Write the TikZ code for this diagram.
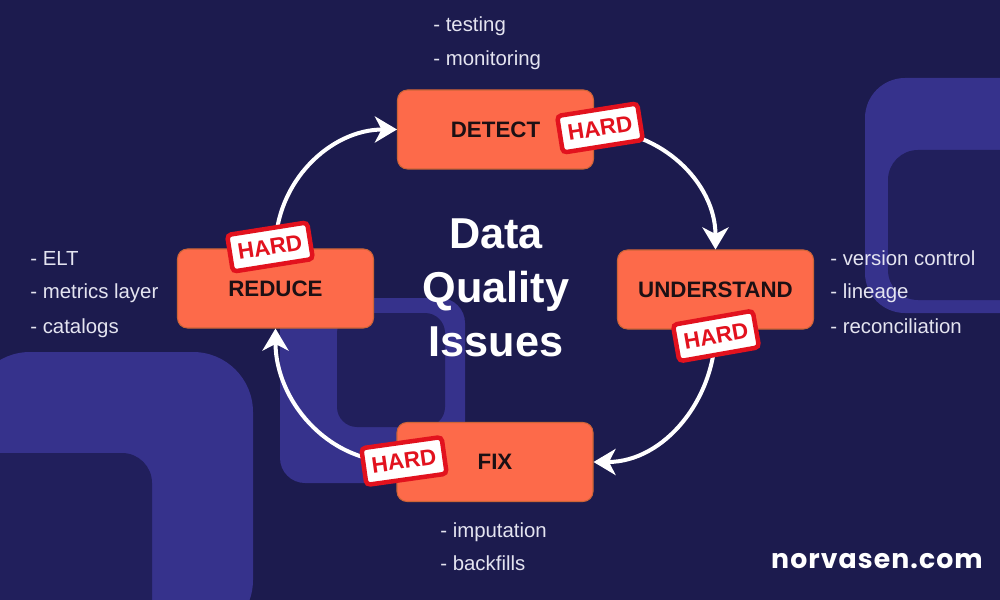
\documentclass[tikz,border=0pt]{standalone}
\usepackage{fontspec}
\setmainfont{Liberation Sans}
\newfontfamily\logofont{Poppins}[LetterSpace=4]
\usetikzlibrary{arrows.meta}
\definecolor{bgnavy}{RGB}{28,27,78}
\definecolor{decopurple}{RGB}{54,50,140}
\definecolor{decoinner}{RGB}{33,31,92}
\definecolor{boxfill}{RGB}{253,106,74}
\definecolor{boxline}{RGB}{205,100,55}
\definecolor{boxtext}{RGB}{28,16,20}
\definecolor{stampred}{RGB}{226,18,30}
\definecolor{notegray}{RGB}{228,228,240}
\begin{document}
\begin{tikzpicture}[scale=0.2]
	\tikzstyle{every node}+=[inner sep=0pt]
	\tikzstyle{box}=[draw=boxline, line width=0.6pt, fill=boxfill, rounded corners=0.2cm, minimum width=3.92cm, minimum height=1.58cm, text=boxtext, font=\fontsize{12.7}{15}\selectfont\bfseries]
	\tikzstyle{stamp}=[draw=stampred, line width=0.09cm, fill=white, rounded corners=0.08cm, minimum width=1.62cm, minimum height=0.74cm, text=stampred, font=\fontsize{12.8}{15}\selectfont\bfseries]
	\tikzstyle{note}=[anchor=base west, text=notegray, font=\fontsize{11.6}{13}\selectfont]
	\tikzstyle{flow}=[draw=white, line width=0.08cm, -{Stealth[length=0.44cm,width=0.52cm,inset=0.13cm]}]
	\useasboundingbox (0,0) rectangle (100,-60);
	\clip (0,0) rectangle (100,-60);
	\fill [bgnavy] (0,0) rectangle (100,-60);
	% background squares
	\fill [decopurple, rounded corners=1.2cm] (-3,-35.2) rectangle (25.3,-64);
	\fill [decoinner, rounded corners=0.6cm] (-3,-45.3) rectangle (15.2,-64);
	\fill [decopurple, rounded corners=0.5cm] (28,-29.8) rectangle (46.5,-48.3);
	\fill [decoinner, rounded corners=0.4cm] (33.7,-31.3) rectangle (44.5,-42.7);
	\fill [decopurple, rounded corners=0.8cm] (86.5,-7.8) rectangle (104,-31.3);
	\fill [decoinner, rounded corners=0.6cm] (88.8,-15) rectangle (104,-30);
	% steps
	\node [box] (detect) at (49.55,-12.95) {DETECT};
	\node [box] (understand) at (71.55,-28.95) {UNDERSTAND};
	\node [box] (fix) at (49.5,-46.2) {FIX};
	\node [box] (reduce) at (27.55,-28.85) {REDUCE};
	\draw [flow] (reduce.north) to [out=90, in=180] (detect.west);
	\draw [flow] (detect.east) to [out=0, in=90] (understand.north);
	\draw [flow] (understand.south) to [out=-90, in=0] (fix.east);
	\draw [flow] (fix.west) to [out=180, in=-90] (reduce.south);
	\node [stamp, rotate=9] (hard1) at (60,-12.8) {HARD};
	\node [stamp, rotate=10] (hard2) at (71.6,-33.6) {HARD};
	\node [stamp, rotate=8] (hard3) at (40.4,-46.1) {HARD};
	\node [stamp, rotate=9] (hard4) at (27,-24.7) {HARD};
	% title
	\node [text=white, align=center, font=\fontsize{24.6}{30.8}\selectfont\bfseries] (title) at (49.6,-28.8) {Data\\Quality\\Issues};
	% notes
	\node [note] (testing) at (43.3,-3.2) {- testing};
	\node [note] (monitoring) at (43.3,-6.6) {- monitoring};
	\node [note] (version) at (83,-26.5) {- version control};
	\node [note] (lineage) at (83,-29.9) {- lineage};
	\node [note] (reconcile) at (83,-33.3) {- reconciliation};
	\node [note] (elt) at (3,-26.5) {- ELT};
	\node [note] (metrics) at (3,-29.9) {- metrics layer};
	\node [note] (catalogs) at (3,-33.3) {- catalogs};
	\node [note] (imputation) at (44,-53.7) {- imputation};
	\node [note] (backfills) at (44,-57) {- backfills};
	\node [anchor=base east, text=white, font=\logofont\fontsize{15.2}{18}\selectfont\bfseries] (logo) at (98.3,-56.8) {norvasen.com};
\end{tikzpicture}
\end{document}
